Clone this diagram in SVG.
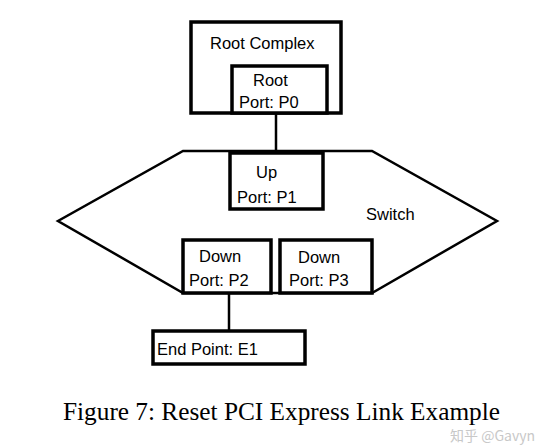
<svg xmlns="http://www.w3.org/2000/svg" width="550" height="447" viewBox="0 0 550 447">
<style>
.box{fill:#fff;stroke:#000;stroke-width:3.5}
.hex{fill:#fff;stroke:#000;stroke-width:2.5}
.t{font-family:"Liberation Sans",Arial,sans-serif;font-size:16.5px;fill:#000}
.cap{font-family:"Liberation Serif","Times New Roman",serif;font-size:25.3px;fill:#000}
.wm{font-family:"Noto Sans CJK SC","Liberation Sans",sans-serif;font-size:14px;fill:#c8c8c8}
.ln{stroke:#000;stroke-width:2.5;fill:none}
</style>
<rect width="550" height="447" fill="#fff"/>
<g id="switch">
<polygon class="hex" points="183,151 372,151 497,221 372,293 183,293 58,221"/>
<text class="t" x="366" y="220">Switch</text>
</g>
<g id="connectors">
<line class="ln" x1="276" y1="113" x2="276" y2="153"/>
<line class="ln" x1="229" y1="293" x2="229" y2="331"/>
</g>
<g id="root-complex">
<rect class="box" x="191" y="22" width="150" height="91"/>
<text class="t" x="210" y="49">Root Complex</text>
</g>
<g id="root-port">
<rect class="box" x="232" y="66" width="95" height="47"/>
<text class="t" x="253" y="86">Root</text>
<text class="t" x="239" y="108">Port: P0</text>
</g>
<g id="up-port">
<rect class="box" x="230" y="153" width="93" height="56"/>
<text class="t" x="256" y="178">Up</text>
<text class="t" x="237" y="203">Port: P1</text>
</g>
<g id="down-p2">
<rect class="box" x="183" y="240" width="88" height="53"/>
<text class="t" x="199" y="262">Down</text>
<text class="t" x="189" y="286">Port: P2</text>
</g>
<g id="down-p3">
<rect class="box" x="280" y="240" width="92" height="53"/>
<text class="t" x="298" y="263">Down</text>
<text class="t" x="289" y="286">Port: P3</text>
</g>
<g id="end-point">
<rect class="box" x="153" y="331" width="152" height="33"/>
<text class="t" x="157" y="355">End Point: E1</text>
</g>
<text class="cap" x="63" y="420">Figure 7: Reset PCI Express Link Example</text>
<text class="wm" x="450" y="441">知乎 @Gavyn</text>
</svg>
